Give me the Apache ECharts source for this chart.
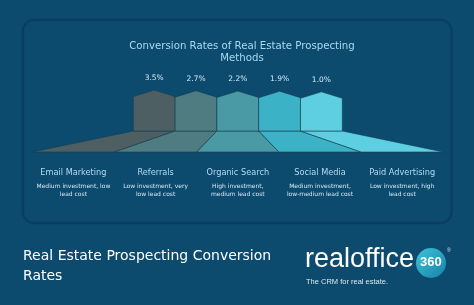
<!DOCTYPE html>
<html>
<head>
<meta charset="utf-8">
<script src="https://cdn.jsdelivr.net/npm/echarts@6/dist/echarts.min.js"></script>
<style>
html,body{margin:0;padding:0;background:#0c4a6e;}
#chart{width:474px;height:305px;}
</style>
</head>
<body>
<div id="chart"></div>
<script>
// ---- data ----
const categories = ['Email Marketing', 'Referrals', 'Organic Search', 'Social Media', 'Paid Advertising'];
const descriptions = [
  ['Medium investment, low', 'lead cost'],
  ['Low investment, very', 'low lead cost'],
  ['High investment,', 'medium lead cost'],
  ['Medium investment,', 'low-medium lead cost'],
  ['Low investment, high', 'lead cost']
];
const conversionRates = [3.5, 2.7, 2.2, 1.9, 1.0];
const rateLabels = ['3.5%', '2.7%', '2.2%', '1.9%', '1.0%'];
const houseColors = ['#4e5f63', '#4f7c80', '#4a9aa5', '#3cb2c7', '#5dcfe1'];

const chartTitle = 'Conversion Rates of Real Estate Prospecting\nMethods';
const footerTitle = 'Real Estate Prospecting Conversion\nRates';

// ---- layout constants ----
const FONT = '"DejaVu Sans", sans-serif';
const HOUSE_RATIO = 0.5085;
const ROOF_H = 6.5;
const FLOOR_H = 21;

const chart = echarts.init(document.getElementById('chart'), null, {renderer: 'canvas'});

function renderHouse(params, api) {
  const i = api.value(0);
  const v = api.value(1);
  const peakPt = api.coord([i, v]);
  const basePt = api.coord([i, -57]);
  const band = api.size([1, 0])[0];
  const cs = params.coordSys;
  const mid = cs.x + cs.width / 2;
  const cx = mid + (peakPt[0] - mid) * HOUSE_RATIO;
  const hw = band * HOUSE_RATIO / 2;
  const base = basePt[1];
  const peak = peakPt[1];
  const color = houseColors[i];
  const stroke = 'rgba(20,62,78,0.75)';
  return {
    type: 'group',
    children: [
      {
        type: 'polygon',
        shape: {points: [
          [cx - hw, base], [cx + hw, base],
          [peakPt[0] + band / 2, base + FLOOR_H], [peakPt[0] - band / 2, base + FLOOR_H]
        ]},
        style: {fill: color, stroke: stroke, lineWidth: 0.8}
      },
      {
        type: 'polygon',
        shape: {points: [
          [cx - hw, base], [cx - hw, peak + ROOF_H], [cx, peak],
          [cx + hw, peak + ROOF_H], [cx + hw, base]
        ]},
        style: {fill: color, stroke: stroke, lineWidth: 0.8}
      },
      {
        type: 'text',
        style: {
          text: rateLabels[i], x: cx, y: peak - 12,
          textAlign: 'center', textVerticalAlign: 'middle',
          align: 'center', verticalAlign: 'middle',
          fill: '#d2eaf5', font: '7.5px ' + FONT
        }
      }
    ]
  };
}

const option = {
  backgroundColor: '#0c4a6e',
  animation: false,
  title: {
    text: chartTitle,
    left: 237, top: 35, textAlign: 'center',
    textStyle: {color: '#a9d9f2', fontFamily: 'DejaVu Sans', fontSize: 10.2, fontWeight: 'normal', lineHeight: 12.5}
  },
  grid: {left: 32.3, right: 30.7, top: 81, bottom: 174, containLabel: false},
  xAxis: {
    type: 'category',
    data: categories,
    axisLine: {show: false},
    axisTick: {show: false},
    axisLabel: {
      interval: 0, hideOverlap: false, margin: 39,
      formatter: function (val, idx) {
        return '{n|' + val + '}\n{d|' + descriptions[idx][0] + '}\n{d|' + descriptions[idx][1] + '}';
      },
      rich: {
        n: {fontFamily: 'DejaVu Sans', fontSize: 8.2, color: '#b3dcf1', lineHeight: 12, padding: [0, 0, 7, 0]},
        d: {fontFamily: 'DejaVu Sans', fontSize: 6, color: '#d4eaf5', lineHeight: 8}
      }
    }
  },
  yAxis: {type: 'value', min: -57, max: 17, show: false},
  series: [{
    type: 'custom',
    renderItem: renderHouse,
    encode: {x: 0, y: 1},
    data: conversionRates.map(function (v, i) { return [i, v]; }),
    z: 5
  }],
  graphic: [
    {
      type: 'rect', z: 0,
      shape: {x: 23, y: 20, width: 428.5, height: 203, r: 11},
      style: {fill: '#0c4a6e', stroke: '#083a5a', lineWidth: 1, shadowBlur: 2, shadowColor: 'rgba(0,0,0,0.2)'}
    },
    {
      type: 'text', z: 1, top: 247, left: 23,
      style: {
        text: footerTitle,
        fill: '#ffffff', font: '14px ' + FONT, lineHeight: 19.5
      }
    },
    {
      type: 'text', z: 1, left: 305, top: 246,
      style: {text: 'realoffice', fill: '#ffffff', font: '27px "Liberation Sans", Arial, sans-serif'}
    },
    {
      type: 'text', z: 1, left: 306, top: 278,
      style: {text: 'The CRM for real estate.', fill: '#dbe8ef', font: '7.5px "Liberation Sans", Arial, sans-serif'}
    },
    {
      type: 'circle', z: 1,
      shape: {cx: 431, cy: 263, r: 15},
      style: {
        fill: new echarts.graphic.LinearGradient(0, 0, 1, 1, [
          {offset: 0, color: '#3ec3d9'}, {offset: 1, color: '#1682a8'}
        ])
      }
    },
    {
      type: 'text', z: 2, left: 420, top: 256,
      style: {text: '360', fill: '#ffffff', font: 'bold 13px "Liberation Sans", Arial, sans-serif'}
    },
    {
      type: 'text', z: 2, left: 447, top: 248,
      style: {text: '®', fill: '#cfe3ee', font: '5px "Liberation Sans", Arial, sans-serif'}
    }
  ]
};
chart.setOption(option);
</script>
</body>
</html>
